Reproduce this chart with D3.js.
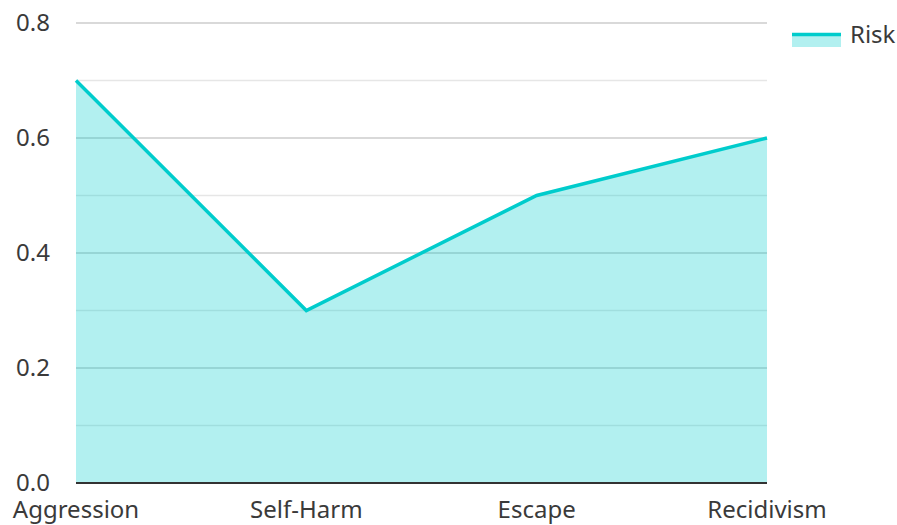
<!DOCTYPE html>
<html><head><meta charset="utf-8">
<script src="https://cdn.jsdelivr.net/npm/d3@7"></script>
<style>body{margin:0;background:#fff}svg{display:block}text{font-family:"Noto Sans",sans-serif;fill:#3a3a3a}</style>
</head><body><svg id="c" width="897" height="525"></svg>
<script>
const categories = ["Aggression","Self-Harm","Escape","Recidivism"];
const riskValues = [0.7,0.3,0.5,0.6];
const yTicks = [0,0.2,0.4,0.6,0.8];
const minorTicks = [0.1,0.3,0.5,0.7];
const seriesName = "Risk";

const svg = d3.select("#c");
const m = {l:76,r:767,t:23,b:483};
const x = d3.scalePoint().domain(categories).range([m.l,m.r]);
const y = d3.scaleLinear().domain([0,0.8]).range([m.b,m.t]);
const data = categories.map((c,i)=>({c,v:riskValues[i]}));

const g = svg.append("g");
g.selectAll(".minor").data(minorTicks).join("line")
 .attr("x1",m.l).attr("x2",m.r).attr("y1",d=>y(d)).attr("y2",d=>y(d))
 .attr("stroke","#e6e6e6").attr("stroke-width",1.5);
g.selectAll(".major").data(yTicks.filter(d=>d>0)).join("line")
 .attr("x1",m.l).attr("x2",m.r).attr("y1",d=>y(d)).attr("y2",d=>y(d))
 .attr("stroke","#cccccc").attr("stroke-width",1.5);

g.append("path").datum(data)
 .attr("d",d3.area().x(d=>x(d.c)).y0(y(0)).y1(d=>y(d.v)))
 .attr("fill","#00cccc").attr("fill-opacity",0.3);
g.append("path").datum(data)
 .attr("d",d3.line().x(d=>x(d.c)).y(d=>y(d.v)))
 .attr("fill","none").attr("stroke","#00cccc").attr("stroke-width",3.5);

g.append("line").attr("x1",m.l).attr("x2",m.r).attr("y1",y(0)).attr("y2",y(0))
 .attr("stroke","#333").attr("stroke-width",2);

g.selectAll(".yl").data(yTicks).join("text")
 .attr("x",50).attr("y",d=>y(d)).attr("dy","0.35em").attr("text-anchor","end")
 .attr("font-size",24).text(d=>d.toFixed(1));
g.selectAll(".xl").data(categories).join("text")
 .attr("x",d=>x(d)).attr("y",518).attr("text-anchor","middle")
 .attr("font-size",24).text(d=>d);

const lg = svg.append("g");
lg.append("rect").attr("x",792).attr("y",35).attr("width",49).attr("height",12).attr("fill","#00cccc").attr("fill-opacity",0.3);
lg.append("line").attr("x1",792).attr("x2",841).attr("y1",34.5).attr("y2",34.5).attr("stroke","#00cccc").attr("stroke-width",3.5);
lg.append("text").attr("x",850).attr("y",35).attr("dy","0.35em").attr("font-size",24).text(seriesName);
</script></body></html>
